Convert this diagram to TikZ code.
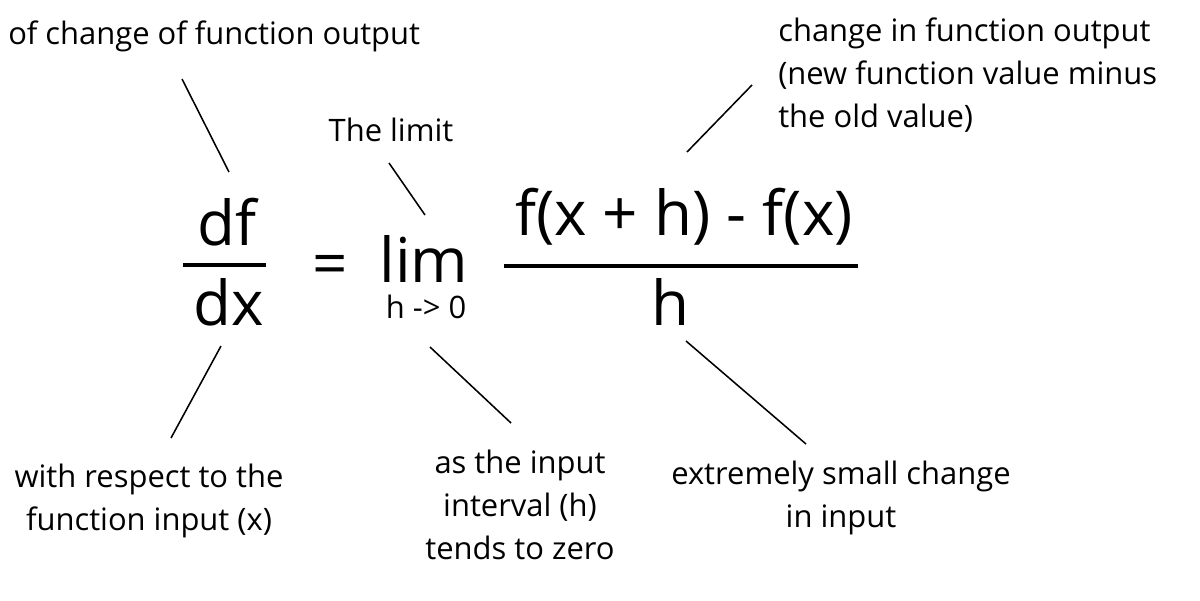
\documentclass[tikz,border=0pt]{standalone}
\usepackage{fontspec}
\setmainfont{Open Sans}
\usepackage{tikz}

\begin{document}
\begin{tikzpicture}[x=0.025cm, y=-0.025cm,
    note/.style={font=\fontsize{22}{30.6}\selectfont, align=center, inner sep=0pt},
    big/.style={font=\fontsize{44}{50}\selectfont, inner sep=0pt, anchor=base},
    pointer/.style={line width=1.1pt},
    bar/.style={line width=2.8pt}]
    \useasboundingbox (0,0) rectangle (1200,600);

    % Formula
    \node[big] (df) at (227,245) {df};
    \node[big] (dx) at (229,325) {dx};
    \draw[bar] (183,265) -- (266,265);
    \node[big] (eq) at (330,285) {=};
    \node[big, text depth=0pt] (lim) at (424,282) {lim};
    \node[note, anchor=base] (hzero) at (426,318) {h -> 0};
    \node[big] (num) at (684,235) {f(x + h) - f(x)};
    \node[big] (den) at (670,325) {h};
    \draw[bar] (504,266) -- (858,266);

    % Notes
    \node[note, anchor=west] (rate) at (8,36) {of change of function output};
    \node[note] (limit) at (391,130) {The limit};
    \node[note, align=left, anchor=west] (change) at (778,75)
        {change in function output\\(new function value minus\\the old value)};
    \node[note] (respect) at (149,501) {with respect to the\\function input (x)};
    \node[note] (tends) at (520,505) {as the input\\interval (h)\\tends to zero};
    \node[note] (small) at (841,498) {extremely small change\\in input};

    % Pointer ends
    \coordinate (rate-a) at (182,79);
    \coordinate (rate-b) at (229,172);
    \coordinate (limit-a) at (389,163);
    \coordinate (limit-b) at (425,215);
    \coordinate (change-a) at (752,85);
    \coordinate (change-b) at (687,152);
    \coordinate (respect-a) at (221,346);
    \coordinate (respect-b) at (171,438);
    \coordinate (tends-a) at (430,347);
    \coordinate (tends-b) at (511,423);
    \coordinate (small-a) at (686,341);
    \coordinate (small-b) at (806,444);

    \foreach \p in {rate, limit, change, respect, tends, small} {
        \draw[pointer] (\p-a) -- (\p-b);
    }
\end{tikzpicture}
\end{document}
